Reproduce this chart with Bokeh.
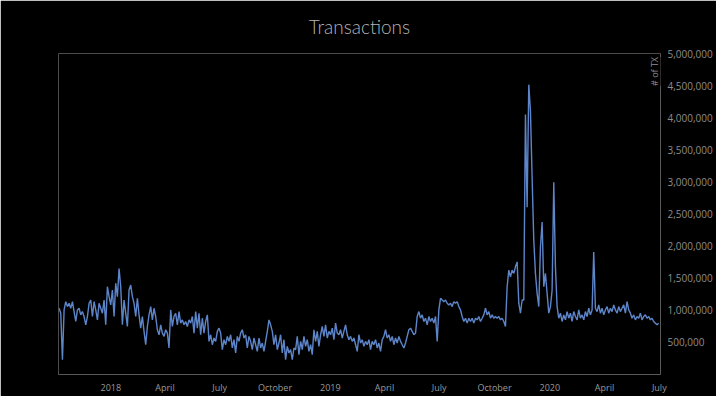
import pandas as pd
from math import pi
from bokeh.plotting import figure
from bokeh.models import Range1d, FixedTicker, NumeralTickFormatter, Label, Span, ColumnDataSource
from bokeh.embed import file_html
from bokeh.resources import INLINE

# ---- data (daily transactions, sampled evenly between first and last date) ----
first_date = "2017-10-07"
last_date = "2020-06-30"

tx_late2017_early2018 = [
    1032000, 955000, 232000, 1006000, 1135000, 1058000, 1109000, 1032000, 1135000, 981000,
    826000, 1006000, 1032000, 929000, 981000, 903000, 774000, 903000, 1109000, 1161000,
    903000, 1135000, 1006000, 851000, 1109000, 1032000, 955000, 1161000, 774000, 1367000,
    1212000, 1084000, 1316000, 903000, 1419000, 1212000, 1651000, 1367000, 774000, 1161000,
    955000, 748000, 1316000, 1393000, 1212000, 1109000, 903000, 1187000, 929000, 722000,
    903000, 671000, 464000, 748000, 929000, 1058000, 851000, 1032000, 903000, 697000,
    619000, 774000, 645000, 593000, 697000, 645000, 413000, 1006000, 748000, 903000,
]
tx_mid2018 = [
    954000, 774000, 980000, 800000, 851000, 774000, 826000, 748000, 851000, 800000,
    903000, 645000, 980000, 722000, 954000, 619000, 877000, 645000, 826000, 929000,
    516000, 619000, 464000, 568000, 516000, 671000, 722000, 645000, 387000, 542000,
    464000, 593000, 516000, 619000, 413000, 542000, 335000, 593000, 516000, 645000,
    697000, 568000, 619000, 413000, 593000, 516000, 387000, 568000, 464000, 361000,
    568000, 413000, 490000, 361000, 516000, 671000, 851000, 774000, 671000, 464000,
    619000, 387000, 490000, 619000, 335000, 542000, 232000, 439000, 335000, 387000,
    232000, 413000,
]
tx_late2018_early2019 = [
    387000, 593000, 310000, 516000, 387000, 593000, 439000, 542000, 361000, 464000,
    310000, 697000, 516000, 671000, 439000, 619000, 748000, 593000, 774000, 568000,
    671000, 619000, 722000, 542000, 800000, 645000, 619000, 697000, 568000, 671000,
    774000, 619000, 542000, 593000, 516000, 568000, 464000, 361000, 619000, 490000,
    542000, 439000, 516000, 464000, 542000, 387000, 516000, 464000, 542000, 413000,
    490000, 361000, 542000, 593000, 697000, 568000, 619000, 516000, 593000, 464000,
    568000, 490000, 593000, 516000, 464000, 413000, 490000, 593000, 697000, 722000,
    671000, 619000,
]
tx_2019 = [
    645000, 903000, 980000, 877000, 929000, 826000, 877000, 774000, 903000, 826000,
    877000, 800000, 903000, 516000, 1006000, 1187000, 1161000, 1135000, 1161000, 1110000,
    1084000, 1110000, 1058000, 1135000, 1110000, 1135000, 1058000, 1006000, 903000, 826000,
    877000, 800000, 877000, 826000, 877000, 800000, 877000, 851000, 903000, 826000,
    877000, 929000, 1032000, 929000, 980000, 877000, 929000, 877000, 903000, 877000,
    903000, 851000, 877000, 826000, 748000, 1367000, 1625000, 1522000, 1625000, 1574000,
    1677000, 1754000, 1110000, 955000, 1161000, 1161000, 4051000, 2605000, 4515000, 4102000,
    3070000, 2090000,
]
tx_late2019_2020 = [
    1574000, 1264000, 1058000, 1987000, 2374000, 1367000, 1574000, 1264000, 955000, 1058000,
    1316000, 2993000, 1677000, 1058000, 877000, 955000, 826000, 929000, 851000, 980000,
    877000, 955000, 826000, 980000, 903000, 851000, 1006000, 877000, 929000, 851000,
    980000, 903000, 1032000, 929000, 1006000, 1909000, 1032000, 980000, 1084000, 955000,
    1032000, 929000, 1006000, 1058000, 955000, 1032000, 980000, 1084000, 1006000, 955000,
    1058000, 980000, 1032000, 1084000, 955000, 1135000, 1006000, 955000, 877000, 929000,
    851000, 903000, 877000, 955000, 851000, 903000, 929000, 877000, 903000, 851000,
    877000, 826000, 800000, 774000, 800000,
]

tick_dates = ["2018-01-01", "2018-04-01", "2018-07-01", "2018-10-01",
              "2019-01-01", "2019-04-01", "2019-07-01", "2019-10-01",
              "2020-01-01", "2020-04-01", "2020-07-01"]
tick_labels = ["2018", "April", "July", "October",
               "2019", "April", "July", "October",
               "2020", "April", "July"]
y_ticks = [500000, 1000000, 1500000, 2000000, 2500000,
           3000000, 3500000, 4000000, 4500000, 5000000]

# ---- build ----
tx = (tx_late2017_early2018 + tx_mid2018 + tx_late2018_early2019
      + tx_2019 + tx_late2019_2020)
dates = pd.date_range(first_date, last_date, periods=len(tx))
src = ColumnDataSource(dict(date=dates, tx=tx))

x_start = pd.Timestamp("2017-10-06")
x_end = pd.Timestamp("2020-07-03")
y_top = 5000000
frame_color = "#595959"

p = figure(width=716, height=396, x_axis_type="datetime",
           x_range=Range1d(x_start, x_end), y_range=Range1d(0, y_top),
           y_axis_location="right", output_backend="svg",
           toolbar_location=None, title="Transactions",
           min_border_left=58, min_border_right=56,
           min_border_top=51, min_border_bottom=21)

p.background_fill_color = "black"
p.border_fill_color = "black"
p.outline_line_color = None
p.grid.grid_line_color = None

p.title.align = "center"
p.title.vertical_align = "top"
p.title.standoff = 28
p.title.text_line_height = 0.7
p.title.text_color = "#b4b4b4"
p.title.text_font = "'Lato Light', Lato"
p.title.text_font_size = "19px"
p.title.text_font_style = "normal"

p.line(x="date", y="tx", source=src, line_color="#5d85ca", line_width=1.4)

tick_ms = [float(pd.Timestamp(d).value // 10**6) for d in tick_dates]
xa = p.xaxis[0]
xa.ticker = FixedTicker(ticks=tick_ms)
xa.major_label_overrides = dict(zip(tick_ms, tick_labels))
xa.axis_line_color = frame_color
xa.major_tick_line_color = None
xa.minor_tick_line_color = None
xa.major_tick_out = 0
xa.major_tick_in = 0
xa.major_label_standoff = 6
xa.major_label_text_color = "#9a9a9a"
xa.major_label_text_font = "Open Sans"
xa.major_label_text_font_size = "9px"

ya = p.yaxis[0]
ya.ticker = FixedTicker(ticks=y_ticks)
ya.formatter = NumeralTickFormatter(format="0,0")
ya.axis_line_color = frame_color
ya.major_tick_line_color = None
ya.minor_tick_line_color = None
ya.major_tick_out = 0
ya.major_tick_in = 0
ya.major_label_standoff = 7
ya.major_label_text_color = "#8e8e8e"
ya.major_label_text_font = "Open Sans"
ya.major_label_text_font_size = "10px"

# left and top edges of the frame
p.add_layout(Span(location=float(x_start.value // 10**6), dimension="height",
                  line_color=frame_color, line_width=1))
p.add_layout(Span(location=y_top, dimension="width",
                  line_color=frame_color, line_width=1))

p.add_layout(Label(x=float(x_end.value // 10**6), y=4720000, text="# of TX",
                   x_offset=-6, angle=pi / 2, text_align="center",
                   text_baseline="middle", text_color="#8e8e8e",
                   text_font="Open Sans", text_font_size="9px",
                   background_fill_color="black", level="overlay"))

open("out.html", "w").write(file_html(p, INLINE))
